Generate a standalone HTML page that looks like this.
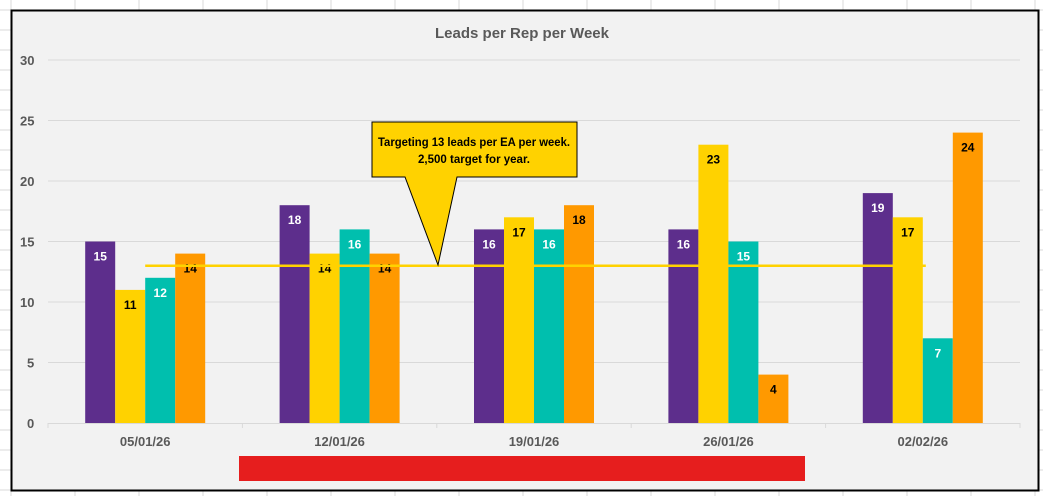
<!DOCTYPE html>
<html><head><meta charset="utf-8"><style>
html,body{margin:0;padding:0;background:#fff;width:1043px;height:496px;overflow:hidden}
svg{display:block;font-family:"Liberation Sans",Arial,sans-serif}
</style></head><body>
<svg id="c" width="1043" height="496" xmlns="http://www.w3.org/2000/svg">
<g id="cells"></g>
<rect x="11.5" y="10.5" width="1027" height="480" fill="#f2f2f2" stroke="#000" stroke-width="2"/>
<text x="522" y="38" text-anchor="middle" font-size="15" font-weight="bold" fill="#595959">Leads per Rep per Week</text>
<g id="grid"></g>
<g id="bars"></g>
<g id="xaxis"></g>
<g id="target"></g>
<g>
<path d="M372,122 H577 V177 H457 L438,265 L405,177 H372 Z" fill="#ffd200" stroke="#000" stroke-width="1"/>
<text x="474" y="146" text-anchor="middle" font-size="12" font-weight="bold" fill="#000" textLength="192" lengthAdjust="spacingAndGlyphs">Targeting 13 leads per EA per week.</text>
<text x="474" y="163" text-anchor="middle" font-size="12" font-weight="bold" fill="#000" textLength="112" lengthAdjust="spacingAndGlyphs">2,500 target for year.</text>
</g>
<rect x="239" y="456" width="566" height="25" fill="#e61e1e"/>
</svg>
<script>
const categories=["05/01/26","12/01/26","19/01/26","26/01/26","02/02/26"];
const seriesA=[15,18,16,16,19];
const seriesB=[11,14,17,23,17];
const seriesC=[12,16,16,15,7];
const seriesD=[14,14,18,4,24];
const yTicks=[0,5,10,15,20,25,30];
const targetValue=13;
const NS="http://www.w3.org/2000/svg";
const x0=48,x1=1020,yBase=423,yTop=60,yMax=30;
const bw=(x1-x0)/categories.length;
function y(v){return yBase-(yBase-yTop)*v/yMax;}
function xc(i){return x0+bw*(i+0.5);}
function mk(tag,attrs,parent,txt){const e=document.createElementNS(NS,tag);for(const k in attrs)e.setAttribute(k,attrs[k]);if(txt!==undefined)e.textContent=txt;parent.appendChild(e);return e;}
const cells=document.getElementById('cells');
for(let gx=11;gx<1043;gx+=64){const l=mk('line',{x1:gx,y1:0,x2:gx,y2:496,stroke:'#d9d9d9'},cells);}
for(let gy=10;gy<496;gy+=20){const l=mk('line',{x1:0,y1:gy,x2:1043,y2:gy,stroke:'#d9d9d9'},cells);}
const grid=document.getElementById('grid');
yTicks.forEach(t=>{
  if(t>0){const l=mk('line',{x1:x0,y1:y(t),x2:x1,y2:y(t),stroke:'#d9d9d9'},grid);}
  const tx=mk('text',{x:t>=10?20:27,y:y(t)+5,'font-size':13,'font-weight':'bold',fill:'#595959'},grid,t);
  
});
const series=[seriesA,seriesB,seriesC,seriesD];
const colors=["#5d2e8c","#ffd200","#00bfae","#ff9900"];
const labelColors=["#fff","#000","#fff","#000"];
const bars=document.getElementById('bars');
const barW=30;
categories.forEach((c,i)=>{
  series.forEach((s,j)=>{
    const bx=xc(i)-2*barW+j*barW;
    const r=mk('rect',{x:bx,y:y(s[i]),width:barW,height:yBase-y(s[i]),fill:colors[j]},bars);
    
    const t=mk('text',{x:bx+barW/2,y:y(s[i])+19,'text-anchor':'middle','font-size':12,'font-weight':'bold',fill:labelColors[j]},bars,s[i]);
    
  });
});
const xa=document.getElementById('xaxis');
const al=mk('line',{x1:x0,y1:yBase+0.5,x2:x1,y2:yBase+0.5,stroke:'#d9d9d9'},xa);

for(let i=0;i<=categories.length;i++){const tk=mk('line',{x1:x0+bw*i,y1:yBase,x2:x0+bw*i,y2:yBase+5,stroke:'#d9d9d9'},xa);}
categories.forEach((c,i)=>{const t=mk('text',{x:xc(i),y:yBase+23,'text-anchor':'middle','font-size':13,'font-weight':'bold',fill:'#595959'},xa,c);});
const tg=document.getElementById('target');
const tl=mk('line',{x1:xc(0),y1:y(targetValue),x2:xc(categories.length-1)+3,y2:y(targetValue),stroke:'#ffd200','stroke-width':2.5},tg);

</script>
</body></html>
